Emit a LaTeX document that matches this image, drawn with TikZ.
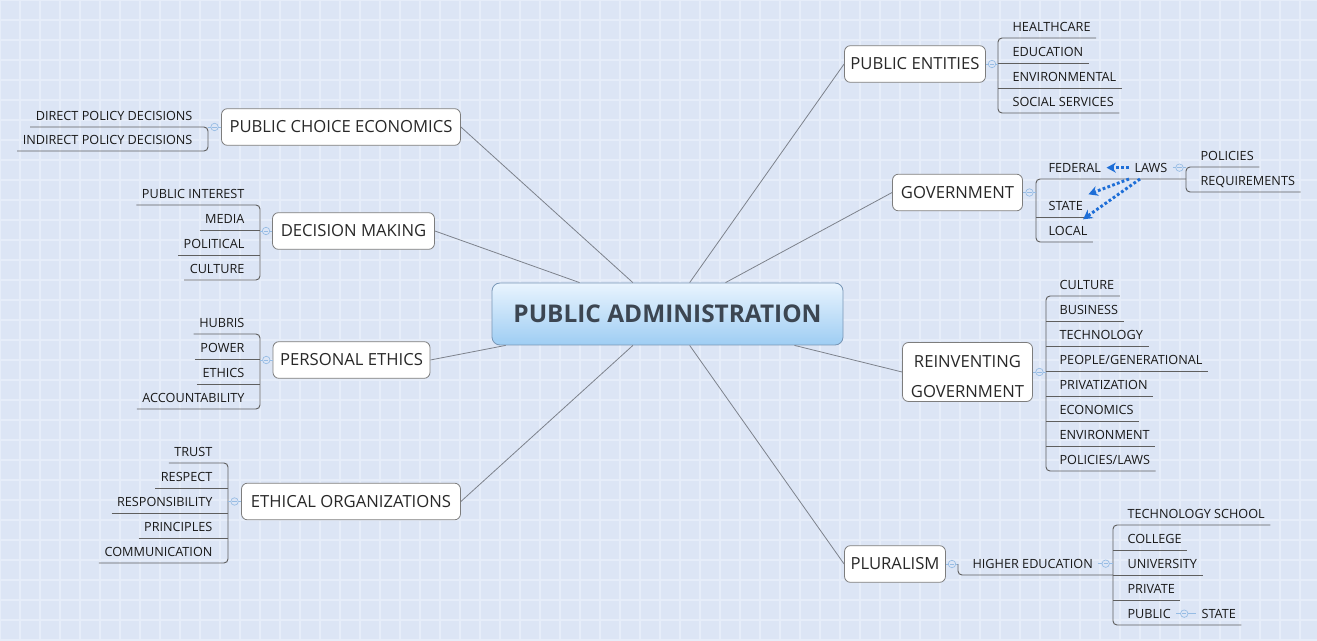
\documentclass[tikz,border=0pt]{standalone}
\usepackage{fontspec}
\setmainfont{Open Sans}
\usetikzlibrary{calc,arrows.meta}
\definecolor{bgc}{RGB}{220,229,245}
\definecolor{gridc}{RGB}{230,237,249}
\definecolor{topicb}{RGB}{125,125,125}
\definecolor{textc}{RGB}{40,40,40}
\definecolor{leaft}{RGB}{25,25,25}
\definecolor{ulc}{RGB}{95,95,95}
\definecolor{connc}{RGB}{125,130,140}
\definecolor{cbl}{RGB}{150,188,228}
\definecolor{relc}{RGB}{30,110,215}
\definecolor{rootT}{RGB}{233,244,254}
\definecolor{rootB}{RGB}{158,205,243}
\definecolor{rootb}{RGB}{120,150,182}
\definecolor{roott}{RGB}{60,70,82}
\newcommand\leaffnt{\fontsize{9.5pt}{11pt}\selectfont}
\newcommand\topicfnt{\fontsize{12.5pt}{22pt}\selectfont}
\newcommand\rootfnt{\fontsize{18.3pt}{21pt}\selectfont\bfseries}
\begin{document}
\begin{tikzpicture}[x=0.75pt,y=-0.75pt,
  topic/.style={draw=topicb, fill=white, rounded corners=4.5pt, line width=0.6pt,
    font=\topicfnt, text=textc, minimum height=27.5pt, inner sep=0pt, align=center},
  topictext/.style={font=\topicfnt, text=textc, inner sep=0pt, align=center},
  root/.style={draw=rootb, rounded corners=6pt, top color=rootT, bottom color=rootB,
    line width=0.6pt, font=\rootfnt, text=roott, minimum width=263.25pt, minimum height=46.5pt},
  leaf/.style={font=\leaffnt, text=leaft, inner xsep=4pt, inner ysep=4.9pt,
    text height=6.8pt, text depth=0pt},
  uline/.style={draw=ulc, line width=0.7pt, rounded corners=3pt},
  conn/.style={draw=connc, line width=0.6pt},
  tie/.style={draw=cbl, line width=0.6pt},
  collapse/.style={circle, draw=cbl, fill=bgc, line width=0.5pt, minimum size=5.6pt, inner sep=0pt,
    path picture={\draw[cbl, line width=0.5pt] ([xshift=-1.6pt]path picture bounding box.center) -- ([xshift=1.6pt]path picture bounding box.center);}},
  rel/.style={draw=relc, line width=2.2pt, dash pattern=on 2.1pt off 1.7pt, -{Stealth[length=7pt,width=7.5pt]}},
  gridl/.style={draw=gridc, line width=1pt}
]
\useasboundingbox (0,0) rectangle (1317,641);
\fill[bgc] (0,0) rectangle (1317,641);
\foreach \i in {0,20,...,1320} {\draw[gridl] (\i,0) -- (\i,641);}
\foreach \j in {0,20,...,640} {\draw[gridl] (0,\j) -- (1317,\j);}

% ---------- root and main topics ----------
\node[root] (pa) at (667.5,314) {PUBLIC ADMINISTRATION};
\node[topic, minimum width=179.25pt] (pce) at (341,127) {PUBLIC CHOICE ECONOMICS};
\node[topic, minimum width=121.5pt] (dm) at (353.5,231) {DECISION MAKING};
\node[topic, minimum width=117.75pt] (pe) at (351.5,360) {PERSONAL ETHICS};
\node[topic, minimum width=164.25pt] (eo) at (351,501.5) {ETHICAL ORGANIZATIONS};
\node[topic, minimum width=105.75pt] (pen) at (915,64) {PUBLIC ENTITIES};
\node[topic, minimum width=97.5pt] (gov) at (957.5,192.5) {GOVERNMENT};
\node[topic, minimum width=97.5pt, minimum height=44.25pt] (rg) at (967.5,372) {};
\node[topictext] (rgtxt) at (967.5,376.5) {REINVENTING\\GOVERNMENT};
\node[topic, minimum width=75.75pt] (plu) at (895,564) {PLURALISM};

\draw[conn] (pce.east) -- (pa);
\draw[conn] (dm.east) -- (pa);
\draw[conn] (pe.east) -- (pa);
\draw[conn] (eo.east) -- (pa);
\draw[conn] (pen.west) -- (pa);
\draw[conn] (gov.west) -- (pa);
\draw[conn] (rg.west) -- (pa);
\draw[conn] (plu.west) -- (pa);

% ---------- PUBLIC CHOICE ECONOMICS ----------
\coordinate (pceT) at (208,127); \coordinate (pceB) at (208,151);
\node[leaf, anchor=south east] (pce1) at (198,127) {DIRECT POLICY DECISIONS};
\node[leaf, anchor=south east] (pce2) at (198,151) {INDIRECT POLICY DECISIONS};
\draw[uline] (pce1.south west) -- (pceT) -- (pceB) -- (pce2.south west);
\draw[tie] (pce.west) -- (pce.west -| pceT);
\node[collapse] at ($(pce.west)!0.5!(pce.west -| pceT)$) {};

% ---------- DECISION MAKING ----------
\coordinate (dmT) at (260,205); \coordinate (dmB) at (260,280);
\node[leaf, anchor=south east] (dm1) at (250,205) {PUBLIC INTEREST};
\node[leaf, anchor=south east] (dm2) at (250,230) {MEDIA};
\node[leaf, anchor=south east] (dm3) at (250,255) {POLITICAL};
\node[leaf, anchor=south east] (dm4) at (250,280) {CULTURE};
\draw[uline] (dm1.south west) -- (dmT) -- (dmB) -- (dm4.south west);
\draw[uline] (dm2.south west) -- (dm2.south west -| dmT);
\draw[uline] (dm3.south west) -- (dm3.south west -| dmT);
\draw[tie] (dm.west) -- (dm.west -| dmT);
\node[collapse] at ($(dm.west)!0.5!(dm.west -| dmT)$) {};

% ---------- PERSONAL ETHICS ----------
\coordinate (peT) at (260,334); \coordinate (peB) at (260,409);
\node[leaf, anchor=south east] (pe1) at (250,334) {HUBRIS};
\node[leaf, anchor=south east] (pe2) at (250,359) {POWER};
\node[leaf, anchor=south east] (pe3) at (250,384) {ETHICS};
\node[leaf, anchor=south east] (pe4) at (250,409) {ACCOUNTABILITY};
\draw[uline] (pe1.south west) -- (peT) -- (peB) -- (pe4.south west);
\draw[uline] (pe2.south west) -- (pe2.south west -| peT);
\draw[uline] (pe3.south west) -- (pe3.south west -| peT);
\draw[tie] (pe.west) -- (pe.west -| peT);
\node[collapse] at ($(pe.west)!0.5!(pe.west -| peT)$) {};

% ---------- ETHICAL ORGANIZATIONS ----------
\coordinate (eoT) at (228,463); \coordinate (eoB) at (228,563);
\node[leaf, anchor=south east] (eo1) at (218,463) {TRUST};
\node[leaf, anchor=south east] (eo2) at (218,488) {RESPECT};
\node[leaf, anchor=south east] (eo3) at (218,513) {RESPONSIBILITY};
\node[leaf, anchor=south east] (eo4) at (218,538) {PRINCIPLES};
\node[leaf, anchor=south east] (eo5) at (218,563) {COMMUNICATION};
\draw[uline] (eo1.south west) -- (eoT) -- (eoB) -- (eo5.south west);
\draw[uline] (eo2.south west) -- (eo2.south west -| eoT);
\draw[uline] (eo3.south west) -- (eo3.south west -| eoT);
\draw[uline] (eo4.south west) -- (eo4.south west -| eoT);
\draw[tie] (eo.west) -- (eo.west -| eoT);
\node[collapse] at ($(eo.west)!0.5!(eo.west -| eoT)$) {};

% ---------- PUBLIC ENTITIES ----------
\coordinate (penT) at (998,38); \coordinate (penB) at (998,113);
\node[leaf, anchor=south west] (pen1) at (1007,38) {HEALTHCARE};
\node[leaf, anchor=south west] (pen2) at (1007,63) {EDUCATION};
\node[leaf, anchor=south west] (pen3) at (1007,88) {ENVIRONMENTAL};
\node[leaf, anchor=south west] (pen4) at (1007,113) {SOCIAL SERVICES};
\draw[uline] (pen1.south east) -- (penT) -- (penB) -- (pen4.south east);
\draw[uline] (pen2.south east -| penT) -- (pen2.south east);
\draw[uline] (pen3.south east -| penT) -- (pen3.south east);
\draw[tie] (pen.east) -- (pen.east -| penT);
\node[collapse] at ($(pen.east)!0.5!(pen.east -| penT)$) {};

% ---------- GOVERNMENT ----------
\coordinate (govT) at (1036,179); \coordinate (govB) at (1036,242);
\coordinate (polT) at (1186,167); \coordinate (polB) at (1186,192);
\node[leaf, anchor=south west] (fed) at (1043,179) {FEDERAL};
\node[leaf, anchor=south west] (laws) at (1129,179) {LAWS};
\node[leaf, anchor=south west] (state) at (1043,217) {STATE};
\node[leaf, anchor=south west] (local) at (1043,242) {LOCAL};
\node[leaf, anchor=south west] (pol1) at (1195,167) {POLICIES};
\node[leaf, anchor=south west] (pol2) at (1195,192) {REQUIREMENTS};
\draw[uline] (laws.south east -| polT) -- (govT) -- (govB) -- (local.south east);
\draw[uline] (state.south east -| govT) -- (state.south east);
\draw[uline] (pol1.south east) -- (polT) -- (polB) -- (pol2.south east);
\draw[tie] (gov.east) -- (gov.east -| govT);
\node[collapse] at ($(gov.east)!0.5!(gov.east -| govT)$) {};
\draw[tie] (laws.east) -- (laws.east -| polT);
\node[collapse] at ($(laws.east)!0.5!(laws.east -| polT)$) {};
\draw[rel] (laws.west) -- (fed.east);
\draw[rel] (laws.south west) -- (state.north east);
\draw[rel] ($(laws.south west)!0.25!(laws.south east)$) -- ($(local.north)!0.6!(local.north east)$);

% ---------- REINVENTING GOVERNMENT ----------
\coordinate (rgT) at (1046,296); \coordinate (rgB) at (1046,471);
\node[leaf, anchor=south west] (rg1) at (1054,296) {CULTURE};
\node[leaf, anchor=south west] (rg2) at (1054,321) {BUSINESS};
\node[leaf, anchor=south west] (rg3) at (1054,346) {TECHNOLOGY};
\node[leaf, anchor=south west] (rg4) at (1054,371) {PEOPLE/GENERATIONAL};
\node[leaf, anchor=south west] (rg5) at (1054,396) {PRIVATIZATION};
\node[leaf, anchor=south west] (rg6) at (1054,421) {ECONOMICS};
\node[leaf, anchor=south west] (rg7) at (1054,446) {ENVIRONMENT};
\node[leaf, anchor=south west] (rg8) at (1054,471) {POLICIES/LAWS};
\draw[uline] (rg1.south east) -- (rgT) -- (rgB) -- (rg8.south east);
\draw[uline] (rg2.south east -| rgT) -- (rg2.south east);
\draw[uline] (rg3.south east -| rgT) -- (rg3.south east);
\draw[uline] (rg4.south east -| rgT) -- (rg4.south east);
\draw[uline] (rg5.south east -| rgT) -- (rg5.south east);
\draw[uline] (rg6.south east -| rgT) -- (rg6.south east);
\draw[uline] (rg7.south east -| rgT) -- (rg7.south east);
\draw[tie] (rg.east) -- (rg.east -| rgT);
\node[collapse] at ($(rg.east)!0.5!(rg.east -| rgT)$) {};

% ---------- PLURALISM ----------
\coordinate (pluT) at (958,564); \coordinate (pluB) at (958,575);
\coordinate (heT) at (1113,525); \coordinate (heB) at (1113,625);
\node[leaf, anchor=south west] (he) at (967,575) {HIGHER EDUCATION};
\node[leaf, anchor=south west] (he1) at (1122,525) {TECHNOLOGY SCHOOL};
\node[leaf, anchor=south west] (he2) at (1122,550) {COLLEGE};
\node[leaf, anchor=south west] (he3) at (1122,575) {UNIVERSITY};
\node[leaf, anchor=south west] (he4) at (1122,600) {PRIVATE};
\node[leaf, anchor=south west] (he5) at (1122,625) {PUBLIC};
\node[leaf, anchor=south west] (st2) at (1196,625) {STATE};
\draw[tie] (plu.east) -- (pluT);
\node[collapse] at ($(plu.east)!0.5!(pluT)$) {};
\draw[uline] (pluT) -- (pluB) -- (he.south east -| heT);
\draw[uline] (he1.south east) -- (heT) -- (heB) -- (st2.south east);
\draw[uline] (he2.south east -| heT) -- (he2.south east);
\draw[uline] (he3.south east -| heT) -- (he3.south east);
\draw[uline] (he4.south east -| heT) -- (he4.south east);
\draw[tie] (he.east) -- (he.east -| heT);
\node[collapse] at ($(he.east)!0.5!(he.east -| heT)$) {};
\draw[tie] (he5.east) -- (st2.west);
\node[collapse] at ($(he5.east)!0.4!(st2.west)$) {};
\end{tikzpicture}
\end{document}
